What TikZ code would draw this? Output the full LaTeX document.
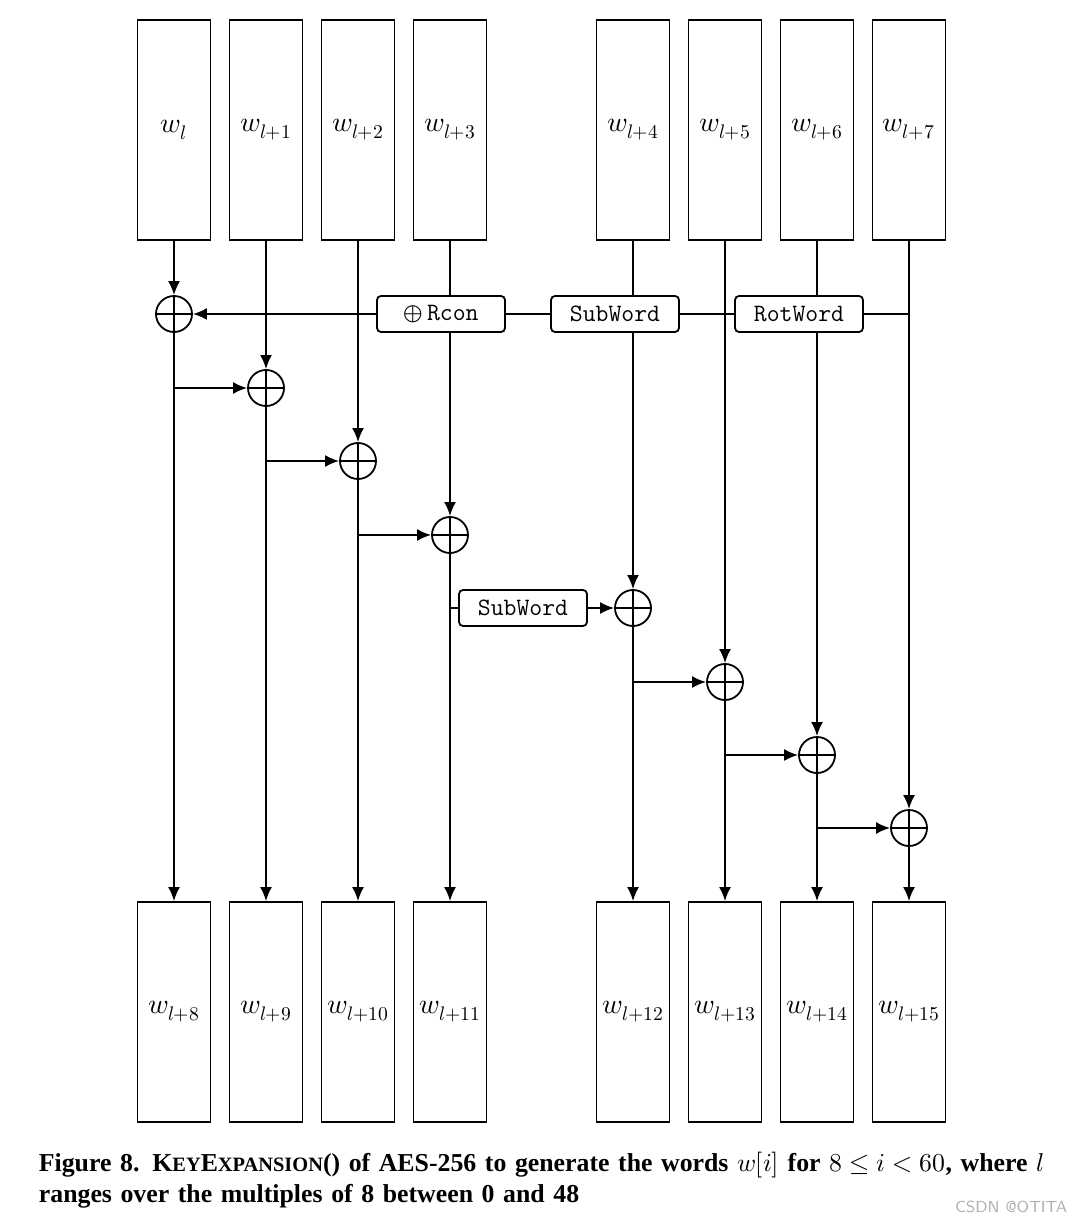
\documentclass[tikz,border=0pt]{standalone}
\usepackage{fontspec}
\setmainfont{Liberation Serif}
\usepackage{unicode-math}
\setmathfont{Latin Modern Math}
\usetikzlibrary{arrows.meta,backgrounds}
\begin{document}
\begin{tikzpicture}[x=0.5pt,y=-0.5pt,line width=0.9pt,
  word/.style={draw,fill=white,minimum width=36.5pt,minimum height=110pt,inner sep=0pt,font=\fontsize{14}{16}\selectfont},
  op/.style={draw,fill=white,rounded corners=2pt,minimum width=64pt,minimum height=18pt,inner sep=0pt,font=\fontsize{12.5}{14}\selectfont\ttfamily},
  xor/.style={circle,draw,fill=white,minimum size=18pt,inner sep=0pt,
    path picture={\draw (path picture bounding box.north)--(path picture bounding box.south) (path picture bounding box.west)--(path picture bounding box.east);}},
  arr/.style={-{Latex[length=7pt,width=6pt]},line width=1pt},
  ln/.style={line width=1pt}]
\useasboundingbox (0,0) rectangle (1073,1224);
\foreach \i/\x/\t/\b in {0/174/{l}/{l+8},1/266/{l+1}/{l+9},2/358/{l+2}/{l+10},3/450/{l+3}/{l+11},4/633/{l+4}/{l+12},5/725/{l+5}/{l+13},6/817/{l+6}/{l+14},7/909/{l+7}/{l+15}}{
  \node[word] (t\i) at (\x,130) {$w_{\t}$};
  \node[word] (b\i) at (\x,1012) {$w_{\b}$};
}
\node[xor] (x0) at (174,314) {};
\node[xor] (x1) at (266,388) {};
\node[xor] (x2) at (358,461) {};
\node[xor] (x3) at (450,535) {};
\node[xor] (x4) at (633,608) {};
\node[xor] (x5) at (725,682) {};
\node[xor] (x6) at (817,755) {};
\node[xor] (x7) at (909,828) {};
\node[op] (rcon) at (441,314) {$\oplus$\,Rcon};
\node[op] (sub) at (615,314) {SubWord};
\node[op] (rot) at (799,314) {RotWord};
\node[op] (sub2) at (523,608) {SubWord};
\begin{scope}[on background layer]
\draw[arr] (t7.south) -- (t7|-rcon) -- (x0.east);
\foreach \i in {0,...,7}{\draw[arr] (t\i.south) -- (x\i.north); \draw[arr] (x\i.south) -- (b\i.north);}
\draw[arr] (x0|-x1) -- (x1.west);
\draw[arr] (x1|-x2) -- (x2.west);
\draw[arr] (x2|-x3) -- (x3.west);
\draw[ln] (x3|-x4) -- (sub2.west);
\draw[arr] (sub2.east) -- (x4.west);
\draw[arr] (x4|-x5) -- (x5.west);
\draw[arr] (x5|-x6) -- (x6.west);
\draw[arr] (x6|-x7) -- (x7.west);
\end{scope}
\node[anchor=north west,inner sep=0pt,text width=520pt,align=left,font=\fontsize{12.9}{15.5}\selectfont\bfseries] (cap) at (38,1151)
{\raggedright Figure 8. K{\fontsize{10.2}{10}\selectfont EY}E{\fontsize{10.2}{10}\selectfont XPANSION}() of AES-256 to generate the words {\mdseries$w[i]$} for $8\le i<60$, where {\mdseries$l$}\\ ranges over the multiples of 8 between 0 and 48};
\node[anchor=east,inner sep=0pt,text=gray!60,font=\fontsize{8}{9}\selectfont\sffamily] (wm) at (1068,1207) {CSDN @OTITA};
\end{tikzpicture}
\end{document}
